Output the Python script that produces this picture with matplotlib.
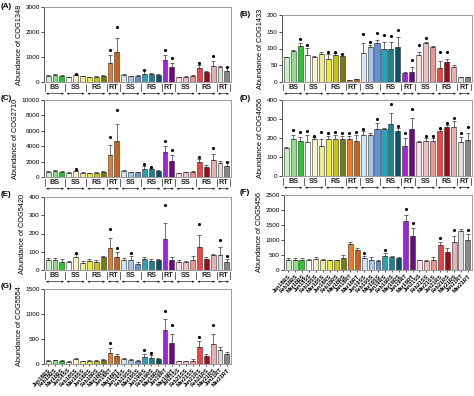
import numpy as np
import matplotlib
matplotlib.use('Agg')
import matplotlib.pyplot as plt
from matplotlib.transforms import ScaledTranslation

plt.rcParams['font.family'] = ['Liberation Sans', 'DejaVu Sans']

# groups of bars (name, first, last)
groups = [("BS", 0, 2), ("SS", 3, 5), ("RS", 6, 8), ("RT", 9, 10), ("SS", 11, 13),
          ("RS", 14, 16), ("RT", 17, 18), ("SS", 19, 21), ("RS", 22, 24), ("RT", 25, 26)]

labels = ["Jan18BS", "Feb18BS", "Mar18BS", "Jan18SS", "Feb18SS", "Mar18SS",
          "Jan18RS", "Feb18RS", "Mar18RS", "Jan18RT", "Mar18RT",
          "Jan19SS", "Feb19SS", "Mar19SS", "Jan19RS", "Feb19RS", "Mar19RS",
          "Jan19RT", "Mar19RT", "Jan21SS", "Feb21SS", "Mar21SS",
          "Jan21RS", "Feb21RS", "Mar21RS", "Jan21RT", "Mar21RT"]

colors = ['#c9efc2', '#8fe08a', '#25c92a', '#ffffff', '#f8f4c4', '#f1eb96',
          '#eeee22', '#c9c314', '#7b7a12', '#f27a22', '#c9621a',
          '#d3e6f8', '#a3c6f0', '#5d93df', '#2aa3b9', '#1b8294', '#0d5263',
          '#a222e0', '#6b0a82', '#fbe0de', '#f4bcbc', '#f09394',
          '#f04444', '#a10a14', '#e2b2b4', '#dcdcdc', '#878787']

a_mean = [250, 270, 230, 200, 290, 230, 200, 200, 240, 750, 1200, 280, 230, 230, 330, 320, 270, 880, 600, 200, 210, 230, 550, 420, 640, 600, 450]
a_err = [30, 40, 40, 20, 40, 30, 20, 30, 30, 330, 580, 40, 30, 40, 150, 60, 50, 220, 180, 20, 20, 40, 150, 40, 210, 30, 150]
a_top = [0, 0, 0, 0, 330, 0, 0, 0, 0, 1300, 2200, 0, 0, 0, 480, 0, 0, 1300, 980, 0, 0, 0, 780, 0, 1050, 0, 600]

b_mean = [74, 92, 107, 82, 75, 85, 70, 82, 78, 5, 8, 87, 103, 115, 99, 99, 104, 28, 31, 80, 115, 103, 43, 60, 45, 15, 14]
b_err = [1, 5, 8, 20, 2, 4, 15, 5, 6, 1, 1, 28, 7, 10, 19, 19, 31, 1, 14, 10, 5, 5, 19, 10, 5, 1, 2]
b_top = [0, 0, 128, 110, 0, 0, 90, 90, 85, 0, 0, 143, 120, 145, 140, 136, 155, 0, 65, 110, 130, 0, 90, 90, 0, 0, 0]

c_mean = [700, 750, 600, 500, 750, 550, 500, 500, 700, 2900, 4700, 750, 600, 600, 1050, 1000, 750, 3200, 2100, 500, 600, 650, 1900, 1300, 2200, 1850, 1400]
c_err = [100, 100, 150, 100, 100, 80, 80, 100, 100, 1200, 2200, 100, 100, 100, 350, 200, 150, 800, 700, 60, 80, 150, 400, 200, 800, 200, 500]
c_top = [0, 0, 0, 0, 1000, 0, 0, 0, 0, 5200, 8700, 0, 0, 0, 1700, 1300, 0, 4700, 3500, 0, 0, 0, 2600, 0, 3800, 0, 1900]

d_mean = [150, 195, 185, 180, 195, 160, 195, 195, 195, 195, 185, 215, 215, 250, 245, 275, 235, 160, 250, 180, 185, 185, 235, 260, 260, 180, 190]
d_err = [5, 20, 20, 35, 10, 35, 15, 20, 17, 15, 30, 20, 10, 30, 10, 55, 20, 40, 55, 5, 15, 15, 10, 10, 30, 25, 35]
d_top = [0, 240, 230, 235, 210, 230, 225, 230, 225, 225, 230, 245, 0, 300, 0, 380, 265, 225, 355, 0, 210, 210, 255, 280, 305, 225, 260]

e_mean = [55, 55, 45, 45, 70, 40, 50, 45, 70, 120, 70, 55, 55, 35, 60, 50, 55, 170, 55, 45, 45, 55, 125, 60, 80, 80, 45]
e_err = [10, 10, 15, 5, 15, 10, 10, 10, 5, 55, 30, 10, 20, 10, 10, 10, 5, 90, 15, 10, 5, 20, 65, 10, 5, 45, 15]
e_top = [0, 0, 0, 0, 95, 0, 0, 0, 0, 225, 120, 0, 95, 0, 0, 0, 0, 355, 0, 0, 0, 0, 250, 0, 0, 165, 75]

f_mean = [350, 340, 330, 330, 380, 320, 330, 320, 390, 870, 660, 390, 320, 310, 470, 420, 390, 1650, 1120, 320, 310, 350, 820, 590, 930, 1300, 1000]
f_err = [60, 60, 80, 40, 50, 50, 20, 20, 110, 80, 60, 80, 110, 30, 110, 60, 30, 200, 280, 20, 30, 70, 130, 160, 220, 60, 200]
f_top = [0, 0, 0, 0, 0, 0, 0, 0, 0, 0, 0, 560, 0, 0, 680, 0, 0, 2050, 1560, 0, 0, 0, 1080, 0, 1320, 0, 1350]

g_mean = [70, 75, 70, 50, 100, 60, 65, 60, 80, 220, 160, 100, 80, 70, 150, 130, 110, 680, 420, 60, 55, 70, 350, 170, 400, 290, 200]
g_err = [10, 10, 10, 10, 15, 10, 10, 15, 20, 110, 40, 20, 15, 15, 50, 60, 15, 220, 180, 10, 10, 30, 120, 30, 200, 50, 50]
g_top = [0, 0, 0, 0, 0, 0, 0, 0, 0, 430, 0, 0, 0, 0, 290, 230, 0, 1070, 780, 0, 0, 0, 550, 0, 780, 0, 0]

W, H = 474, 396
fig = plt.figure(figsize=(W / 100, H / 100), dpi=100)


def box(l, t, r, b):
    return [l / W, 1 - b / H, (r - l) / W, (b - t) / H]


def panel(rect, cog, mean, err, top, ymax, yticks, brackets=True, ticklabels=False):
    ax = fig.add_axes(box(*rect))
    x = np.arange(len(mean))
    ax.bar(x, mean, width=0.72, color=colors, edgecolor='#333333', linewidth=0.4, zorder=2)
    ax.errorbar(x, mean, yerr=[np.zeros(len(err)), err], fmt='none', ecolor='#333333',
                elinewidth=0.5, capsize=1.2, capthick=0.5, zorder=3)
    tx = [i for i in x if top[i] > 0]
    ax.scatter(tx, [top[i] for i in tx], s=1.5, color='black', zorder=4)
    ax.set_xlim(-0.6, len(mean) - 0.4)
    ax.set_ylim(0, ymax)
    ax.set_yticks(yticks)
    ax.tick_params(axis='y', labelsize=4.6, length=2, width=0.5, pad=1)
    for s in ax.spines.values():
        s.set_color('#9a9a9a')
        s.set_linewidth(0.7)
    ax.spines['left'].set_color('#555555')
    ax.set_ylabel('Abundance of ' + cog, fontsize=5.3, labelpad=2)
    if ticklabels:
        ax.set_xticks(x)
        ax.set_xticklabels(labels, rotation=45, ha='right', rotation_mode='anchor',
                           fontsize=4.0, fontweight='bold')
        ax.tick_params(axis='x', length=1.5, width=0.5, pad=1)
    else:
        ax.set_xticks([])
    if brackets:
        tr_txt = ax.get_xaxis_transform() + ScaledTranslation(0, -4.2 / 72, fig.dpi_scale_trans)
        tr_sep = ax.get_xaxis_transform()
        tr_arr = ax.get_xaxis_transform() + ScaledTranslation(0, -8.4 / 72, fig.dpi_scale_trans)
        for name, g0, g1 in groups:
            ax.text((g0 + g1) / 2, 0, name, transform=tr_txt, ha='center', va='center',
                    fontsize=5.2, fontweight='bold', color='#222222')
            ax.annotate('', xy=(g1 + 0.3, 0), xytext=(g0 - 0.3, 0), xycoords=tr_arr, textcoords=tr_arr,
                        arrowprops=dict(arrowstyle='<|-|>', color='#222222', lw=0.5,
                                        mutation_scale=2.5, shrinkA=0, shrinkB=0),
                        annotation_clip=False)
        for b in [-0.5] + [g1 + 0.5 for _, _, g1 in groups]:
            ax.plot([b, b], [-0.03, -0.12], transform=tr_sep, color='#222222', lw=0.5, clip_on=False)
    return ax


panel((44, 7, 231, 82), 'COG1348', a_mean, a_err, a_top, 3000, [0, 1000, 2000, 3000])
panel((282, 15, 472, 82), 'COG1433', b_mean, b_err, b_top, 200, [0, 50, 100, 150, 200])
panel((44, 100, 231, 177), 'COG2710', c_mean, c_err, c_top, 10000, [0, 2000, 4000, 6000, 8000, 10000])
panel((282, 100, 472, 176), 'COG4656', d_mean, d_err, d_top, 400, [0, 100, 200, 300, 400])
panel((44, 197, 231, 270), 'COG5420', e_mean, e_err, e_top, 400, [0, 100, 200, 300, 400])
panel((284, 195, 472, 270), 'COG5456', f_mean, f_err, f_top, 2500, [0, 500, 1000, 1500, 2000, 2500],
      brackets=False, ticklabels=True)
panel((44, 289, 231, 364), 'COG5554', g_mean, g_err, g_top, 1500, [0, 500, 1000, 1500],
      brackets=False, ticklabels=True)

for tag, px, py in [('(A)', 1, 6), ('(B)', 240, 14), ('(C)', 1, 99), ('(D)', 240, 99),
                    ('(E)', 1, 195), ('(F)', 240, 193), ('(G)', 1, 287)]:
    fig.text(px / W, 1 - py / H, tag, fontsize=5.8, fontweight='bold', va='center', ha='left')

fig.savefig('out.png', dpi=100)
